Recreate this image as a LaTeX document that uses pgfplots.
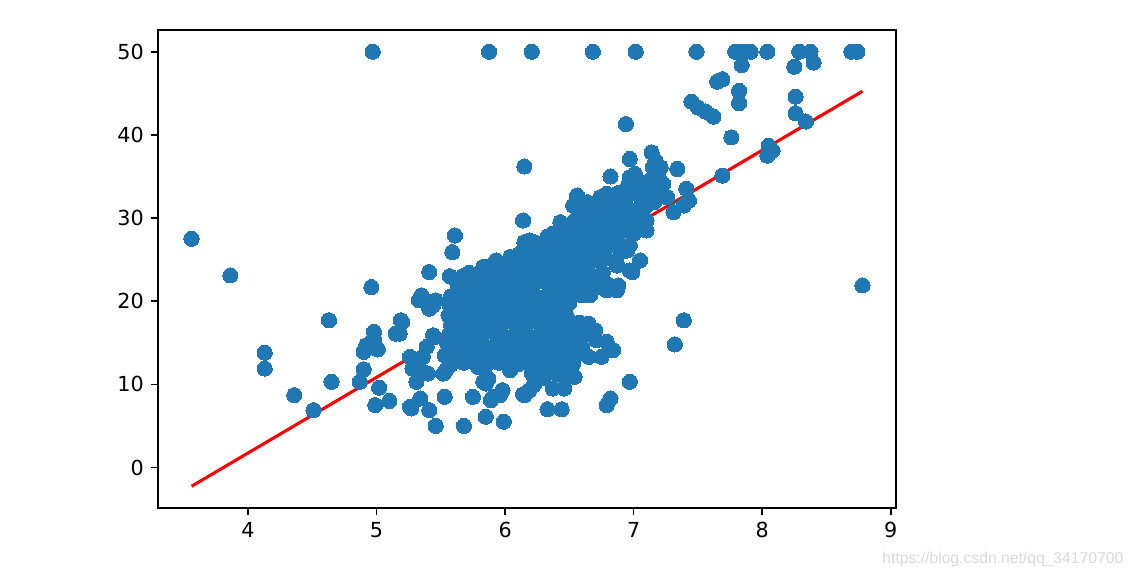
\documentclass[border=0pt]{standalone}
\usepackage{fontspec}
\setmainfont{DejaVu Sans}
\newfontfamily\wmfont{Liberation Sans}
\usepackage{pgfplots}
\pgfplotsset{compat=1.18}
\definecolor{mplblue}{HTML}{1F77B4}
\definecolor{wmgray}{HTML}{D9D9D9}
\begin{document}
\begin{tikzpicture}
\path[use as bounding box] (0,0) rectangle (567pt,288pt);
\begin{axis}[
  at={(79pt,34pt)}, anchor=south west,
  scale only axis, width=369pt, height=239pt,
  xmin=3.300, xmax=9.041, ymin=-4.871, ymax=52.613,
  xtick={4,5,6,7,8,9}, ytick={0,10,20,30,40,50},
  tick align=outside, tick pos=left,
  major tick length=3.6pt,
  tick style={black, line width=0.83pt},
  axis line style={black, line width=0.83pt},
  tick label style={font=\fontsize{10.35}{12}\selectfont},
  /pgf/number format/assume math mode=true,
]
% scatter RM vs MEDV
\addplot[only marks, mark=*, mark size=3.8pt, color=mplblue, mark options={fill=mplblue, draw=mplblue, line width=0pt}] coordinates {
% MEDV = 50 (capped)
(4.970,50) (5.875,50) (6.208,50) (6.683,50) (7.016,50) (7.489,50) (7.79,50) (7.83,50)
(7.87,50) (7.91,50) (8.040,50) (8.288,50) (8.375,50) (8.694,50) (8.740,50)
% upper right
(7.84,48.4) (8.25,48.2) (8.40,48.7) (7.65,46.4) (7.69,46.7) (7.82,45.3) (7.82,43.8)
(7.45,44.0) (7.50,43.3) (7.56,42.8) (7.62,42.2) (8.26,44.6) (8.26,42.6) (8.34,41.6)
(6.94,41.3) (7.76,39.7) (8.05,38.7) (8.08,38.1) (8.04,37.5) (7.69,35.1) (6.15,36.2)
% arm
(7.14,37.9) (7.17,36.9) (7.21,36.1) (6.97,37.1) (6.97,34.9) (7.01,35.3) (6.82,35.0)
(6.97,33.3) (7.04,32.9) (7.15,34.9) (7.23,34.1) (7.21,32.9) (7.26,32.5) (7.34,35.9)
(7.41,33.5) (7.43,32.1) (7.39,31.5) (7.31,30.7) (7.15,36.1) (7.13,34.1) (7.09,31.3)
(7.04,30.3) (7.02,30.5) (7.10,29.7) (7.05,28.9) (7.10,28.5) (7.00,28.1) (6.95,26.5)
(6.95,26.1) (6.97,26.7) (7.05,24.9) (6.97,23.7) (6.87,24.3) (6.99,23.5) (6.87,24.5)
(6.88,21.9) (6.79,22.1) (6.66,20.9) (6.56,32.7) (6.53,31.5) (6.58,31.3) (6.74,32.5)
(6.79,32.9) (6.76,31.7) (6.84,32.1) (6.82,30.9) (6.63,30.5) (6.71,29.7) (6.79,29.3)
(6.82,27.7) (6.79,26.5) (6.71,24.9) (6.61,25.7) (6.50,26.5) (6.40,26.1) (6.43,29.5)
(6.37,28.1) (6.45,28.5) (6.54,29.7) (6.14,29.7) (6.23,27.1) (6.19,27.3) (6.15,27.1)
(6.95,33.7) (6.97,32.9)
(6.20,25.3) (6.28,25.7) (6.36,25.2) (6.45,25.8) (6.53,25.4) (6.62,25.0) (6.70,25.6) (6.78,25.2)
(6.22,26.4) (6.30,26.9) (6.38,27.2) (6.48,27.0) (6.58,26.6) (6.66,27.1) (6.74,26.8) (6.86,26.9) (6.90,25.9)
(6.33,27.8) (6.42,28.3) (6.52,27.9) (6.60,28.4) (6.68,28.0) (6.76,28.2) (6.88,28.0) (6.94,28.6)
(6.50,29.0) (6.60,29.4) (6.66,29.1) (6.75,29.6) (6.86,29.2) (6.93,29.6) (7.00,29.4)
(6.68,30.8) (6.76,30.4) (6.90,30.7) (6.96,31.1) (7.06,31.6)
(6.64,31.9) (6.70,31.2) (6.90,31.8) (6.92,32.4) (7.08,32.2) (7.16,31.9)
(7.10,33.4) (7.18,33.2) (6.88,33.0) (7.06,34.3) (7.19,35.3)
% core
(5.83,24.1) (5.93,24.9) (6.04,25.3) (6.11,25.7)
(5.86,24.1) (5.95,24.5) (6.03,24.0) (6.12,24.6) (6.21,24.2) (6.30,24.4) (6.38,23.9) (6.47,24.5) (6.56,24.1) (6.64,24.4)
(5.72,23.4) (5.80,23.0) (5.89,23.3) (5.97,23.1) (6.05,23.5) (6.14,23.0) (6.23,23.3) (6.31,23.1) (6.40,23.4) (6.48,22.9) (6.57,23.3) (6.66,23.1) (6.76,23.4)
(5.63,22.1) (5.71,21.8) (5.80,22.2) (5.88,21.9) (5.96,22.3) (6.05,21.8) (6.13,22.2) (6.22,21.9) (6.30,22.4) (6.39,21.8) (6.47,22.1) (6.56,22.0) (6.64,22.3) (6.72,21.7)
(5.58,20.6) (5.66,21.0) (5.75,20.7) (5.83,20.9) (5.92,20.5) (6.00,21.0) (6.09,20.6) (6.17,20.8) (6.26,20.4) (6.34,20.9) (6.43,20.6) (6.51,21.0) (6.60,20.7)
(5.57,19.5) (5.65,19.8) (5.74,19.4) (5.82,19.7) (5.90,19.3) (5.99,19.8) (6.07,19.5) (6.16,19.7) (6.24,19.3) (6.33,19.6) (6.41,19.4) (6.50,19.8)
(5.56,18.3) (5.64,18.6) (5.72,18.2) (5.81,18.5) (5.89,18.1) (5.98,18.7) (6.06,18.3) (6.15,18.5) (6.23,18.2) (6.32,18.6) (6.40,18.4) (6.48,18.2)
(5.58,17.1) (5.66,17.4) (5.75,17.0) (5.83,17.3) (5.92,17.1) (6.00,17.5) (6.09,17.0) (6.17,17.2) (6.26,17.4) (6.34,17.0) (6.43,17.3) (6.51,17.1) (6.58,17.4)
(5.57,16.1) (5.65,15.8) (5.74,16.2) (5.82,15.9) (5.91,16.3) (5.99,15.8) (6.08,16.0) (6.16,16.2) (6.25,15.7) (6.33,16.1) (6.42,15.9) (6.50,16.2)
(5.55,14.9) (5.63,14.6) (5.72,15.0) (5.80,14.7) (5.89,14.4) (5.97,14.9) (6.06,14.6) (6.14,15.0) (6.23,14.7) (6.31,14.5) (6.40,14.9) (6.48,14.6) (6.57,14.8)
(5.53,13.5) (5.61,13.8) (5.70,13.4) (5.78,13.7) (5.87,13.3) (5.95,13.8) (6.04,13.5) (6.12,13.7) (6.21,13.4) (6.29,13.8) (6.38,13.5) (6.46,13.3) (6.54,13.6)
(5.58,12.4) (5.68,12.6) (5.85,12.3) (5.95,12.6) (6.10,12.4) (6.20,12.2) (6.28,12.5) (6.37,12.7) (6.48,12.3)
% lower right of core
(6.15,8.7) (6.23,10.1) (6.21,11.3) (6.19,9.3) (6.24,10.5) (6.27,12.9) (6.35,12.1) (6.40,11.3)
(6.54,10.9) (6.53,12.5) (6.56,14.1) (6.53,16.1) (6.45,18.1) (6.49,20.1) (6.37,9.5) (6.46,9.5)
(6.33,7.0) (6.44,7.0) (6.30,10.8) (6.45,11.0)
(6.65,17.3) (6.70,16.5) (6.65,13.3) (6.75,13.3) (6.84,14.1) (6.79,15.1) (6.71,15.3) (6.62,16.0) (6.60,14.5)
(6.66,20.7) (6.79,21.3) (6.87,21.3) (6.87,21.7)
% left sparse
(5.19,17.7) (5.15,16.1) (5.41,23.5) (5.57,23.0) (5.67,23.0) (5.59,25.9) (5.61,27.9) (5.35,20.7)
(5.41,19.9) (5.46,20.1) (5.41,19.1) (5.33,20.1) (5.44,19.5) (5.45,15.7) (5.39,14.5) (5.31,12.9)
(5.28,11.9) (5.36,11.5) (5.40,11.3) (5.31,10.3) (5.27,7.1) (5.34,8.3) (5.41,6.9) (5.46,5.0)
(5.53,8.5) (5.68,5.0) (5.75,8.5) (5.83,10.3) (5.85,10.1) (5.87,10.7) (5.91,8.5) (5.89,8.1)
(5.96,8.7) (5.98,9.3) (5.85,6.1) (5.99,5.5) (6.14,8.8) (6.22,9.9) (6.79,7.5) (6.82,8.3)
(6.97,10.3) (5.54,11.7) (5.52,11.3) (5.74,13.3) (5.79,12.1) (6.04,11.7) (6.04,12.1) (5.26,13.3)
(5.44,15.9) (5.36,13.3) (5.20,17.5) (5.18,16.1)
(4.96,21.7) (4.98,16.3) (4.98,15.4) (4.92,14.7) (4.90,13.9) (5.01,14.2) (4.90,11.8) (4.87,10.3)
(5.02,9.6) (4.99,7.5) (5.10,8.0) (5.26,7.3) (4.63,17.7) (4.65,10.3) (4.36,8.7) (4.51,6.9)
(4.13,13.8) (4.13,11.9) (3.863,23.1) (3.561,27.5)
% right sparse
(7.39,17.7) (7.32,14.8) (8.78,21.9)
};
% regression line
\addplot[red, line width=1.55pt] coordinates {(3.561,-2.258) (8.780,45.247)};
\end{axis}
\node[anchor=base west, inner sep=0pt, text=wmgray, font=\wmfont\fontsize{7.85}{9}\selectfont] at (441pt,6.35pt) {https://blog.csdn.net/qq\_34170700};
\end{tikzpicture}
\end{document}
